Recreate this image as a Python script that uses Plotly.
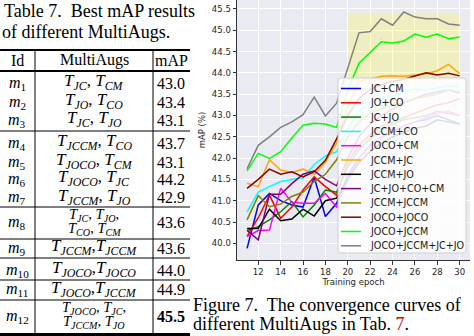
import plotly.graph_objects as go

# ---------------- data ----------------
epochs = list(range(11, 31))

names = ["JC+CM", "JO+CO", "JC+JO", "JCCM+CO", "JOCO+CM", "JCCM+JC", "JCCM+JO",
         "JC+JO+CO+CM", "JCCM+JCCM", "JOCO+JOCO", "JOCO+JCCM", "JOCO+JCCM+JC+JO"]
colors = ["#0000ff", "#ff0000", "#008000", "#00ffff", "#ff00ff", "#ffa500", "#000000",
          "#800080", "#808000", "#8b0000", "#00ff00", "#808080"]

jc_cm = [39.88, 40.90, 41.17, 41.00, 40.90, 40.85, 41.55, 40.63, 40.94, 41.60,
         42.00, 42.30, 42.50, 42.60, 42.75, 42.85, 42.90, 43.00, 42.90, 42.80]
jo_co = [40.16, 40.60, 41.13, 40.59, 40.85, 41.25, 41.56, 41.33, 41.13, 41.90,
         42.30, 42.55, 42.75, 42.85, 42.95, 43.05, 43.15, 43.25, 43.30, 43.40]
jc_jo = [40.30, 40.39, 40.55, 40.74, 40.98, 40.62, 40.90, 41.25, 41.20, 41.80,
         42.20, 42.45, 42.65, 42.80, 42.90, 42.95, 43.00, 43.10, 43.05, 43.00]
jccm_co = [40.74, 41.20, 41.33, 41.45, 41.50, 41.53, 41.85, 42.05, 42.15, 42.70,
           43.10, 43.30, 43.40, 43.45, 43.55, 43.62, 43.60, 43.65, 43.70, 43.68]
joco_cm = [40.16, 40.30, 40.31, 41.29, 40.96, 40.94, 40.94, 41.17, 40.85, 41.50,
           42.00, 42.30, 42.50, 42.65, 42.75, 42.85, 42.95, 43.05, 43.10, 43.00]
jccm_jc = [41.41, 41.33, 41.96, 41.72, 41.66, 41.74, 41.62, 41.90, 42.35, 43.20,
           43.80, 43.85, 43.92, 43.93, 43.92, 43.95, 43.98, 44.05, 44.20, 43.98]
jccm_jo = [40.35, 40.35, 40.80, 40.53, 40.57, 40.80, 40.64, 41.00, 41.06, 41.50,
           41.90, 42.15, 42.35, 42.50, 42.60, 42.70, 42.75, 42.90, 42.85, 42.80]
jc_jo_co_cm = [40.30, 40.08, 41.15, 41.15, 41.40, 41.62, 41.70, 41.50, 41.35, 42.00,
               42.50, 42.80, 43.00, 43.15, 43.30, 43.40, 43.50, 43.55, 43.60, 43.52]
jccm_jccm = [40.55, 41.12, 40.86, 40.92, 41.10, 41.20, 41.45, 41.62, 41.96, 42.50,
             42.85, 43.05, 43.15, 43.25, 43.30, 43.40, 43.45, 43.50, 43.60, 43.55]
joco_joco = [41.29, 41.50, 41.74, 41.62, 41.68, 41.56, 41.68, 41.95, 42.45, 43.00,
             43.40, 43.62, 43.72, 43.80, 43.85, 43.92, 44.00, 43.95, 43.99, 43.93]
joco_jccm = [41.70, 42.11, 41.99, 42.15, 42.47, 42.77, 42.82, 42.80, 42.72, 43.60,
             44.23, 44.47, 44.73, 44.70, 44.75, 44.91, 44.84, 44.91, 44.80, 44.84]
joco_jccm_jc_jo = [41.75, 42.30, 42.50, 42.72, 42.85, 43.02, 43.43, 42.99, 43.29, 44.10,
                   44.94, 44.97, 45.27, 45.12, 45.43, 45.31, 45.27, 45.27, 45.15, 45.12]

series = [jc_cm, jo_co, jc_jo, jccm_co, joco_cm, jccm_jc, jccm_jo,
          jc_jo_co_cm, jccm_jccm, joco_joco, joco_jccm, joco_jccm_jc_jo]

x_ticks = list(range(12, 31, 2))
y_ticks = [40.0, 40.5, 41.0, 41.5, 42.0, 42.5, 43.0, 43.5, 44.0, 44.5, 45.0, 45.5]
highlight_epochs = [20, 30]
highlight_map = [43.8, 45.4]

# table data
table_ids = ["1", "2", "3", "4", "5", "6", "7", "8", "9", "10", "11", "12"]
table_augs = [
    [["JC", "CM"]], [["JO", "CO"]], [["JC", "JO"]],
    [["JCCM", "CO"]], [["JOCO", "CM"]], [["JOCO", "JC"]], [["JCCM", "JO"]],
    [["JC", "JO"], ["CO", "CM"]],
    [["JCCM", "JCCM"]], [["JOCO", "JOCO"]], [["JOCO", "JCCM"]],
    [["JOCO", "JC"], ["JCCM", "JO"]],
]
table_map = ["43.0", "43.4", "43.1", "43.7", "43.1", "44.2", "42.9",
             "43.6", "43.6", "44.0", "44.9", "45.5"]

# ---------------- layout helpers ----------------
W, H = 474, 336
def px(x):
    return x / W
def py(y):
    return 1 - y / H

fig = go.Figure()
for name, col, vals in zip(names, colors, series):
    fig.add_trace(go.Scatter(x=epochs, y=vals, mode="lines", name=name,
                             line=dict(color=col, width=1.5), showlegend=False))

shapes = []
annotations = []

# highlighted region
shapes.append(dict(type="rect", xref="x", yref="y",
                   x0=highlight_epochs[0], x1=highlight_epochs[1],
                   y0=highlight_map[0], y1=highlight_map[1],
                   fillcolor="rgba(255,255,0,0.2)", line=dict(width=0), layer="between"))

# manual legend (matplotlib style)
lx0, lx1, ly0, ly1, r = 338, 466, 78, 253, 3
path = (f"M{px(lx0 + r)},{py(ly0)} L{px(lx1 - r)},{py(ly0)} Q{px(lx1)},{py(ly0)} {px(lx1)},{py(ly0 + r)} "
        f"L{px(lx1)},{py(ly1 - r)} Q{px(lx1)},{py(ly1)} {px(lx1 - r)},{py(ly1)} "
        f"L{px(lx0 + r)},{py(ly1)} Q{px(lx0)},{py(ly1)} {px(lx0)},{py(ly1 - r)} "
        f"L{px(lx0)},{py(ly0 + r)} Q{px(lx0)},{py(ly0)} {px(lx0 + r)},{py(ly0)} Z")
shapes.append(dict(type="path", xref="paper", yref="paper", path=path,
                   fillcolor="rgba(255,255,255,0.86)", line=dict(color="rgba(204,204,204,0.9)", width=1),
                   layer="above"))
for i, (name, col) in enumerate(zip(names, colors)):
    yc = 88.5 + i * 14.3
    shapes.append(dict(type="line", xref="paper", yref="paper",
                       x0=px(341), x1=px(361), y0=py(yc), y1=py(yc),
                       line=dict(color=col, width=1.5), layer="above"))
    annotations.append(dict(x=px(368), y=py(yc), xref="paper", yref="paper", text=name,
                            showarrow=False, xanchor="left", yanchor="middle",
                            font=dict(family="DejaVu Sans", size=9.6, color="#1a1a1a")))

# ---------------- table & captions ----------------
serif = "Liberation Serif"
def ann(x, y, text, size, anchor="left", color="black", yanchor="middle"):
    annotations.append(dict(x=px(x), y=py(y), xref="paper", yref="paper", text=text,
                            showarrow=False, xanchor=anchor, yanchor=yanchor,
                            font=dict(family=serif, size=size, color=color)))

ann(2, 11, "Table 7.  Best mAP results", 18)
ann(0, 32, "of different MultiAugs.", 18)
ann(191, 305, "Figure 7.  The convergence curves of", 18)
ann(191, 336, 'different MultiAugs in Tab. <span style="color:#e00000">7</span>.', 18,
    yanchor="bottom")

# header
ann(17, 60, "Id", 16, "center")
ann(94, 60, "MultiAugs", 16, "center")
ann(171, 60, "mAP", 16, "center")

def T(s):
    return f"<i>T</i><sub><i>{s}</i></sub>"

row_y = [[82], [101], [119], [142], [161], [178], [196.5], [215, 228.5],
         [247], [269], [288.5], [308, 322]]
for rid, augs, val, ys in zip(table_ids, table_augs, table_map, row_y):
    yc = sum(ys) / len(ys)
    ann(17, yc + 1, f"<i>m</i><sub>{rid}</sub>", 16, "center")
    two = len(augs) > 1
    for j, (pair, yy) in enumerate(zip(augs, ys)):
        sep = "," if (len(pair[0]) + len(pair[1]) > 7) else ", "
        txt = T(pair[0]) + sep + T(pair[1])
        if two and j == 0:
            txt += ","
        ann(94, yy, txt, 14.5 if two else 17, "center")
    vtxt = f"<b>{val}</b>" if rid == "12" else val
    ann(171, yc + 1, vtxt, 16, "center")

def hline(y, w):
    shapes.append(dict(type="line", xref="paper", yref="paper", x0=px(0), x1=px(190),
                       y0=py(y), y1=py(y), line=dict(color="black", width=w)))
hline(50, 2)
hline(71, 2)
for yy in [131, 207, 239, 258, 280, 300]:
    hline(yy, 1.2)
hline(334.5, 3)
for xx in [35, 153]:
    shapes.append(dict(type="line", xref="paper", yref="paper", x0=px(xx), x1=px(xx),
                       y0=py(50), y1=py(335), line=dict(color="black", width=1)))

axis_font = dict(family="DejaVu Sans", size=8.5, color="#262626")
fig.update_layout(
    width=W, height=H, margin=dict(l=0, r=0, t=0, b=0),
    paper_bgcolor="white", plot_bgcolor="#eaeaf2",
    shapes=shapes, annotations=annotations, showlegend=False,
    xaxis=dict(domain=[px(237), px(470)], range=[10.1, 30.92], tickvals=x_ticks,
               showgrid=True, gridcolor="white", gridwidth=1, zeroline=False,
               showline=True, linecolor="#333333", linewidth=1,
               ticks="outside", ticklen=3.5, tickcolor="#333333", tickfont=axis_font,
               title=dict(text="Training epoch", font=axis_font, standoff=3), automargin=False),
    yaxis=dict(domain=[py(260), 1], range=[39.608, 45.711], tickvals=y_ticks, tickformat=".1f",
               showgrid=True, gridcolor="white", gridwidth=1, zeroline=False,
               showline=True, linecolor="#333333", linewidth=1,
               ticks="outside", ticklen=3.5, tickcolor="#333333", tickfont=axis_font,
               title=dict(text="mAP (%)", font=axis_font, standoff=4), automargin=False),
)

fig.write_html("out.html")
